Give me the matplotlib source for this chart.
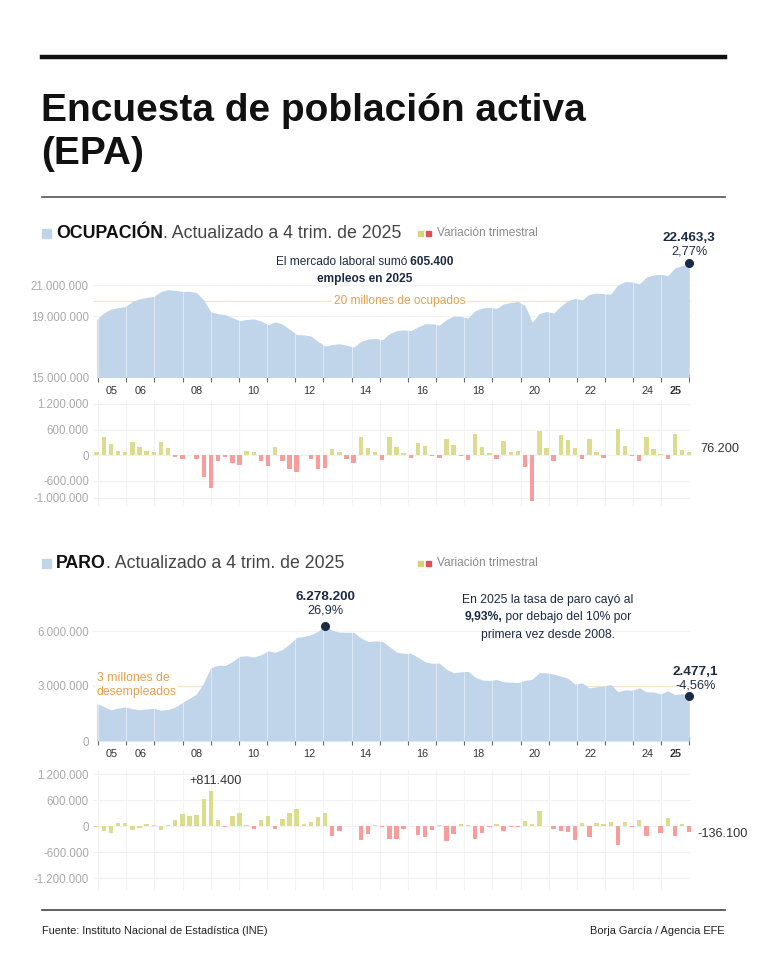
import numpy as np
import matplotlib
matplotlib.use('Agg')
import matplotlib.pyplot as plt

# datos EPA, en miles, 2005T1 - 2025T4
ocupados = [18780, 19200, 19450, 19550, 19620, 19950, 20120, 20220, 20280, 20600, 20720, 20680,
            20600, 20620, 20530, 20050, 19280, 19150, 19100, 18900, 18700, 18780, 18820, 18680,
            18440, 18620, 18480, 18150, 17800, 17780, 17700, 17350, 17050, 17150, 17200, 17100,
            16980, 17350, 17500, 17550, 17450, 17850, 18050, 18100, 18050, 18300, 18500, 18500,
            18420, 18780, 19000, 18980, 18880, 19350, 19520, 19580, 19500, 19800, 19880, 19950,
            19700, 18600, 19170, 19300, 19200, 19650, 20000, 20150, 20060, 20420, 20500, 20450,
            20430, 21030, 21250, 21230, 21100, 21540, 21680, 21720, 21640, 22150, 22270, 22463.3]

var_ocupados = [80, 430, 257, 94, 78, 312, 195, 100, 70, 312, 156, -40,
                -94, 10, -94, -507, -780, -133, -55, -195, -234, 94, 62, -140,
                -257, 195, -140, -335, -390, -5, -94, -335, -312, 133, 78, -94,
                -180, 413, 156, 62, -117, 413, 180, 55, -78, 273, 218, -15,
                -78, 374, 234, -20, -117, 483, 180, 55, -100, 335, 78, 94,
                -285, -1074, 569, 167, -137, 464, 359, 153, -100, 383, 76, -81,
                -11, 603, 209, -19, -139, 425, 138, 35, -92, 503, 118, 76.2]

parados = [2040, 1880, 1700, 1800, 1860, 1760, 1700, 1750, 1780, 1680, 1720, 1850,
           2100, 2330, 2570, 3190, 4000, 4130, 4120, 4330, 4620, 4650, 4580, 4700,
           4920, 4840, 4990, 5290, 5650, 5700, 5790, 5980, 6278.2, 6040, 5940, 5930,
           5930, 5620, 5430, 5460, 5440, 5150, 4850, 4780, 4790, 4570, 4320, 4240,
           4250, 3910, 3730, 3770, 3800, 3490, 3330, 3300, 3350, 3230, 3210, 3190,
           3310, 3370, 3720, 3720, 3650, 3540, 3420, 3100, 3170, 2900, 2960, 3000,
           3080, 2690, 2790, 2770, 2900, 2680, 2680, 2570, 2740, 2530, 2590, 2477.1]

var_parados = [-20, -115, -154, 70, 70, -90, -40, 40, 35, -85, 30, 130,
               270, 230, 245, 615, 811.4, 128, -15, 220, 290, 33, -71, 130,
               225, -76, 160, 305, 390, 53, 85, 200, 305, -235, -110, -8,
               -3, -320, -195, 30, -14, -295, -298, -72, 11, -216, -253, -83,
               17, -340, -183, 36, 29, -306, -165, -21, 49, -123, -17, -22,
               121, 55, 355, -3, -65, -110, -127, -317, 70, -255, 60, 44,
               103, -430, 90, -25, 140, -225, -5, -160, 190, -235, 58, -136.1]

etiquetas_anio = ['05', '06', '08', '10', '12', '14', '16', '18', '20', '22', '24', '25']
anios_etiqueta = [2005, 2006, 2008, 2010, 2012, 2014, 2016, 2018, 2020, 2022, 2024, 2025]

AZUL = '#c0d5ea'
AMARILLO = '#dcdc8e'
ROJO = '#f89c9c'
NAVY = '#1c2b44'
NARANJA = '#e3a04e'
GRIS = '#a9a9a9'
TEXTO = '#333333'

plt.rcParams['font.family'] = ['Liberation Sans', 'DejaVu Sans']

W, H = 768, 967
fig = plt.figure(figsize=(W / 100, H / 100), dpi=100)
rend = fig.canvas.get_renderer()


def fx(x):
    return x / W


def fy(y):
    return 1 - y / H


def ejes(left, top, right, bottom):
    return fig.add_axes([left / W, 1 - bottom / H, (right - left) / W, (bottom - top) / H])


def linea(x, y, partes, size, ha='left'):
    # partes: (texto, peso, color); los espacios van al principio de cada parte
    textos = []
    cx = x
    for s, peso, col in partes:
        t = fig.text(fx(cx), fy(y), s, fontsize=size, fontweight=peso, color=col,
                     ha='left', va='center')
        cx += t.get_window_extent(rend).width
        textos.append(t)
    if ha == 'center':
        d = (cx - x) / 2
        for t in textos:
            t.set_x(t.get_position()[0] - d / W)
    return textos


x = np.arange(len(ocupados))
pos_anio = [0.2 + 3.945 * k for k in range(21)] + [83]
pos_etiq = [0.2 + 3.945 * (a - 2005) + 1.97 for a in anios_etiqueta[:-1]] + [81.1]
XLIM = (-0.5, 83.3)
L, R = 93.1, 691.4


def eje_area(ax, serie, y0, ylim, yticks, ylabels):
    ax.fill_between(x, serie, y0, color=AZUL, lw=0, zorder=2)
    ax.set_xlim(*XLIM)
    ax.set_ylim(*ylim)
    for s in ax.spines.values():
        s.set_visible(False)
    ax.set_yticks(yticks)
    ax.set_yticklabels(ylabels, fontsize=8.3, color=GRIS)
    ax.tick_params(axis='y', length=0, pad=3)
    ax.set_xticks(pos_anio)
    ax.set_xticklabels([])
    ax.set_xticks(pos_etiq, minor=True)
    ax.set_xticklabels(etiquetas_anio, minor=True, fontsize=7.8, color=TEXTO)
    ax.get_xticklabels(minor=True)[-1].set_fontweight('bold')
    ax.tick_params(axis='x', which='major', direction='inout', length=6, width=0.8, color='#666666')
    ax.tick_params(axis='x', which='minor', length=0, pad=6)
    for p in pos_anio[:-1]:
        ax.axvline(p, color='white', lw=0.7, alpha=0.45, zorder=3)


def eje_barras(ax, serie, ylim, yticks, ylabels, desde=0):
    col = [AMARILLO if (v >= 0 or i < desde) else ROJO for i, v in enumerate(serie)]
    ax.bar(x, serie, width=0.62, color=col, zorder=3)
    ax.set_xlim(*XLIM)
    ax.set_ylim(*ylim)
    for s in ax.spines.values():
        s.set_visible(False)
    ax.set_xticks([])
    ax.set_yticks(yticks)
    ax.set_yticklabels(ylabels, fontsize=8.3, color=GRIS)
    ax.tick_params(axis='y', length=0, pad=3)
    for t in yticks:
        ax.axhline(t, color='#f0f0f0', lw=0.8, zorder=1)
    for p in pos_anio[:-1]:
        ax.axvline(p, color='#f3f3f3', lw=0.8, zorder=1)


# cabecera
fig.add_artist(plt.Line2D([fx(42), fx(725)], [fy(57), fy(57)], color='#111111', lw=3.2))
fig.text(fx(41), fy(121), 'Encuesta de población activa', fontsize=28, fontweight='bold',
         color='#111111', va='baseline')
fig.text(fx(41), fy(164), '(EPA)', fontsize=28, fontweight='bold', color='#111111', va='baseline')
fig.add_artist(plt.Line2D([fx(42), fx(725)], [fy(197), fy(197)], color='#555555', lw=1.2))

for yy, nombre in [(233, 'OCUPACIÓN'), (563, 'PARO')]:
    fig.patches.append(plt.Rectangle((fx(42), fy(yy + 4.5)), 9 / W, 9 / H, color=AZUL,
                                     transform=fig.transFigure, figure=fig))
    linea(56, yy, [(nombre, 'bold', '#111111'), ('. Actualizado a 4 trim. de 2025', 'normal', '#444444')], 12.8)
    fig.patches.append(plt.Rectangle((fx(418), fy(yy + 2.5)), 5 / W, 5 / H, color='#d8d27a',
                                     transform=fig.transFigure, figure=fig))
    fig.patches.append(plt.Rectangle((fx(426), fy(yy + 2.5)), 5 / W, 5 / H, color='#e0505a',
                                     transform=fig.transFigure, figure=fig))
    fig.text(fx(437), fy(yy), 'Variación trimestral', fontsize=8.6, color='#8a8a8a', va='center')

# ---- OCUPACION ----
ax1 = ejes(L, 250.1, R, 377.5)
eje_area(ax1, ocupados, 15000, (15000, 23300), [15000, 19000, 21000],
         ['15.000.000', '19.000.000', '21.000.000'])
for v in [19000, 21000]:
    ax1.axhline(v, color='#f2f2f2', lw=0.8, zorder=1)
ax1.axhline(20000, color='#f6e3cb', lw=0.9, zorder=1)
ax1.text(42.5, 20000, '20 millones de ocupados', fontsize=8.6, color=NARANJA, ha='center', va='center',
         zorder=4, bbox=dict(boxstyle='square,pad=0.2', fc='white', ec='none'))
ax1.plot(x[-1], ocupados[-1], 'o', color=NAVY, ms=5.5, clip_on=False, zorder=6)
ax1.annotate('22.463,3', (x[-1], ocupados[-1]), xytext=(0, 25), textcoords='offset pixels',
             ha='center', va='center', fontsize=9.7, fontweight='bold', color=NAVY, annotation_clip=False)
ax1.annotate('2,77%', (x[-1], ocupados[-1]), xytext=(0, 11), textcoords='offset pixels',
             ha='center', va='center', fontsize=9.2, color=NAVY, annotation_clip=False)

linea(365, 262, [('El mercado laboral sumó', 'normal', NAVY), (' 605.400', 'bold', NAVY)], 8.6, ha='center')
linea(365, 279, [('empleos en 2025', 'bold', NAVY)], 8.6, ha='center')

ax2 = ejes(L, 399.75, R, 506)
eje_barras(ax2, var_ocupados, (-1200, 1300), [-1000, -600, 0, 600, 1200],
           ['-1.000.000', '-600.000', '0', '600.000', '1.200.000'])
ax2.annotate('76.200', (x[-1], var_ocupados[-1]), xytext=(11, 3), textcoords='offset pixels',
             ha='left', va='center', fontsize=9.2, color=TEXTO, annotation_clip=False)

# ---- PARO ----
ax3 = ejes(L, 609, R, 741)
eje_area(ax3, parados, 0, (0, 7200), [0, 3000, 6000], ['0', '3.000.000', '6.000.000'])
ax3.axhline(6000, color='#f2f2f2', lw=0.8, zorder=1)
ax3.axhline(3000, color='#f6e3cb', lw=0.9, zorder=1)
ax3.text(0.0, 3050, '3 millones de\ndesempleados', fontsize=8.8, color=NARANJA, ha='left', va='center',
         linespacing=1.3, zorder=4, bbox=dict(boxstyle='square,pad=0.1', fc='white', ec='none'))
ipico = int(np.argmax(parados))
ax3.plot(x[ipico], parados[ipico], 'o', color=NAVY, ms=5.5, zorder=6)
ax3.annotate('6.278.200', (x[ipico], parados[ipico]), xytext=(0, 29), textcoords='offset pixels',
             ha='center', va='center', fontsize=9.7, fontweight='bold', color=NAVY)
ax3.annotate('26,9%', (x[ipico], parados[ipico]), xytext=(0, 15), textcoords='offset pixels',
             ha='center', va='center', fontsize=9.2, color=NAVY)
ax3.plot(x[-1], parados[-1], 'o', color=NAVY, ms=5.5, clip_on=False, zorder=6)
ax3.annotate('2.477,1', (x[-1], parados[-1]), xytext=(6, 24), textcoords='offset pixels',
             ha='center', va='center', fontsize=9.7, fontweight='bold', color=NAVY, annotation_clip=False)
ax3.annotate('-4,56%', (x[-1], parados[-1]), xytext=(6, 10), textcoords='offset pixels',
             ha='center', va='center', fontsize=9.2, color=NAVY, annotation_clip=False)

linea(548, 600, [('En 2025 la tasa de paro cayó al', 'normal', NAVY)], 8.7, ha='center')
linea(548, 617, [('9,93%,', 'bold', NAVY), (' por debajo del 10% por', 'normal', NAVY)], 8.7, ha='center')
linea(548, 635, [('primera vez desde 2008.', 'normal', NAVY)], 8.7, ha='center')

ax4 = ejes(L, 769.7, R, 891)
eje_barras(ax4, var_parados, (-1500, 1300), [-1200, -600, 0, 600, 1200],
           ['-1.200.000', '-600.000', '0', '600.000', '1.200.000'], desde=12)
imax = int(np.argmax(var_parados))
ax4.annotate('+811.400', (x[imax], var_parados[imax]), xytext=(5, 10), textcoords='offset pixels',
             ha='center', va='center', fontsize=9.2, color=TEXTO)
ax4.annotate('-136.100', (x[-1], var_parados[-1]), xytext=(8, -2), textcoords='offset pixels',
             ha='left', va='center', fontsize=9.2, color=TEXTO, annotation_clip=False)

# pie
fig.add_artist(plt.Line2D([fx(42), fx(725)], [fy(910), fy(910)], color='#444444', lw=1.2))
fig.text(fx(42), fy(931), 'Fuente: Instituto Nacional de Estadística (INE)', fontsize=7.9,
         color='#222222', va='center')
fig.text(fx(725), fy(931), 'Borja García / Agencia EFE', fontsize=7.9, color='#222222',
         va='center', ha='right')

fig.savefig('out.png', dpi=100, facecolor='white')
